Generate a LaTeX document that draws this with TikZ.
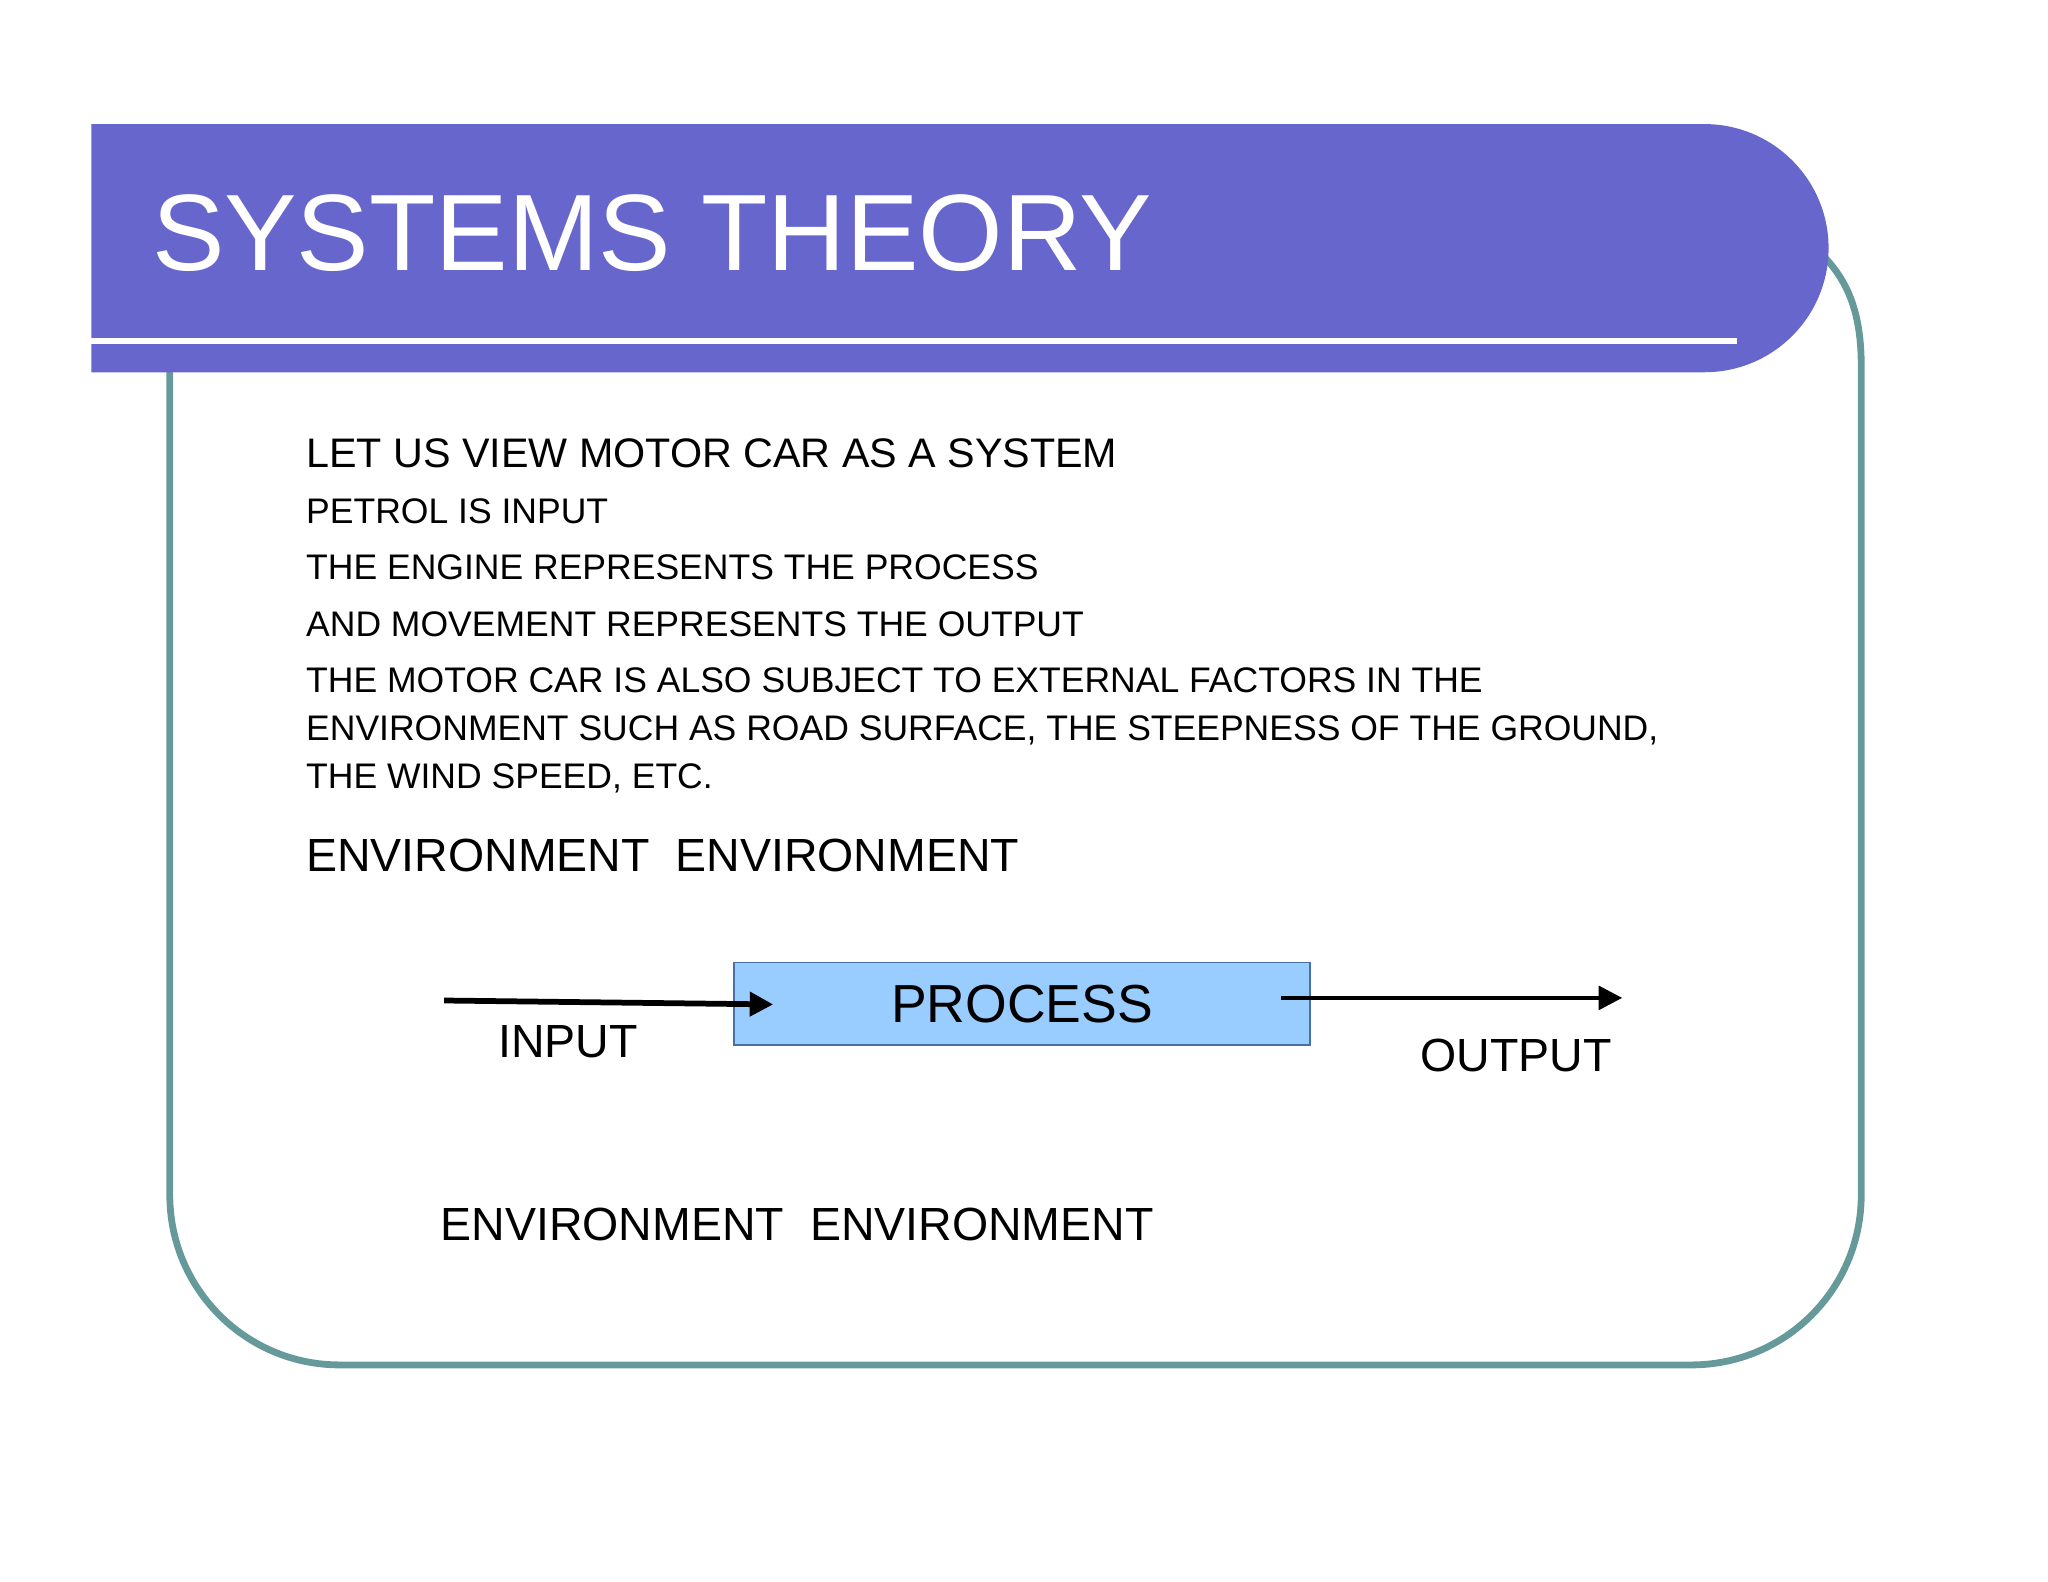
\documentclass[tikz,border=0pt]{standalone}
\usepackage{fontspec}
\setmainfont{Liberation Sans}
\usetikzlibrary{arrows.meta}
\definecolor{banner}{HTML}{6666CC}
\definecolor{frame}{HTML}{669999}
\definecolor{procfill}{HTML}{99CCFF}
\definecolor{procdraw}{HTML}{4A6FA5}
\tikzset{
  txt/.style={anchor=base west, inner sep=0pt, font=\fontsize{13.6}{15}\selectfont},
  big/.style={anchor=base west, inner sep=0pt, font=\fontsize{17.8}{20}\selectfont},
  flow/.style={-{Triangle[length=9pt,width=9pt]}, line width=2.2pt},
}
\begin{document}
\begin{tikzpicture}[x=0.5pt,y=-0.5pt]
\useasboundingbox (0,0) rectangle (1568,1211);
% frame
\draw[frame, line width=2.6pt] (130,280) -- (130,915) arc[start angle=180,end angle=90,radius=130] -- (1295,1045) arc[start angle=90,end angle=0,radius=130] -- (1425,280) .. controls (1425,240) and (1415,215) .. (1395,195);
% banner
\fill[banner] (70,95) -- (1305,95) arc[start angle=-90,end angle=90,radius=95] -- (70,285) -- cycle;
\draw[white, line width=2pt] (70,261) -- (1330,261);
\node[anchor=base west, inner sep=0pt, text=white, font=\fontsize{41.6}{46}\selectfont] (title) at (116,207) {SYSTEMS THEORY};
% text
\node[txt, font=\fontsize{15.8}{18}\selectfont] (t1) at (234,358) {LET US VIEW MOTOR CAR AS A SYSTEM};
\node[txt] (t2) at (234,401) {PETROL IS INPUT};
\node[txt] (t3) at (234,444) {THE ENGINE REPRESENTS THE PROCESS};
\node[txt] (t4) at (234,487) {AND MOVEMENT REPRESENTS THE OUTPUT};
\node[txt] (t5) at (234,530) {THE MOTOR CAR IS ALSO SUBJECT TO EXTERNAL FACTORS IN THE};
\node[txt] (t6) at (234,567) {ENVIRONMENT SUCH AS ROAD SURFACE, THE STEEPNESS OF THE GROUND,};
\node[txt] (t7) at (234,604) {THE WIND SPEED, ETC.};
\node[big] (e1) at (234,667) {ENVIRONMENT\ \ ENVIRONMENT};
\node[big] (e2) at (337,950) {ENVIRONMENT\ \ ENVIRONMENT};
% process
\node[draw=procdraw, fill=procfill, line width=0.5pt, minimum width=441*0.5pt, minimum height=63*0.5pt, inner sep=0pt, font=\fontsize{20.5}{24}\selectfont] (proc) at (782.5,768.5) {PROCESS};
\coordinate (ia) at (340,766);
\coordinate (ib) at (592,769);
\draw[flow] (ia) -- (ib);
\coordinate (oa) at (981,764);
\coordinate (ob) at (1242,764);
\draw[flow, line width=1.6pt] (oa) -- (ob);
\node[big] (in) at (381,810) {INPUT};
\node[big] (out) at (1087,820) {OUTPUT};
\end{tikzpicture}
\end{document}
